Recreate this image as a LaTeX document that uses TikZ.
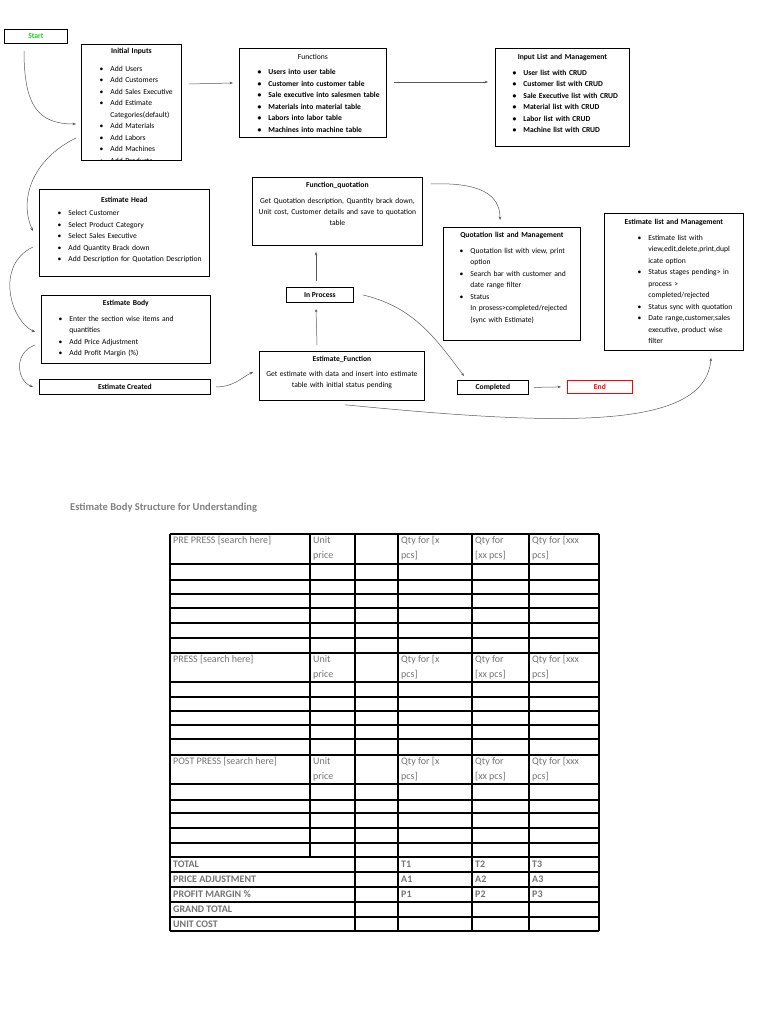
\documentclass[tikz,border=0pt]{standalone}
\usepackage{fontspec}
\setmainfont{Carlito}
\usepackage{enumitem}
\usetikzlibrary{calc,arrows.meta}
\setlist[itemize]{label=\textbullet,nosep,topsep=5pt,labelsep=7pt}
\newcommand{\cardfont}{\fontsize{7.6}{11.5}\selectfont}
\newcommand{\tabfont}{\fontsize{10}{15}\selectfont}
\definecolor{startgreen}{RGB}{20,210,20}

\begin{document}
\begin{tikzpicture}
[x=1pt,y=-1pt,
card/.style={draw,line width=0.8pt,anchor=north west,inner sep=0pt},
cardtxt/.style={anchor=north,inner sep=0pt,font=\cardfont,align=left},
tag/.style={card,font=\cardfont\bfseries},
arr/.style={draw=black!65,line width=0.5pt,-{Stealth[length=3.5pt,width=2.6pt]}},
tabline/.style={line width=1.3pt},
cell/.style={anchor=north west,inner sep=0pt,font=\tabfont,text=black!55,align=left}]
\useasboundingbox (0,0) rectangle (768,1024);

% flow chart boxes
\node[tag,minimum width=63,minimum height=14,text=startgreen] (start) at (4,29) {Start};
\node[card,minimum width=100,minimum height=116] (init) at (81,44) {};
\begin{scope}
\clip (init.north west) rectangle (init.south east);
\node[cardtxt,text width=98] (init-t) at ($(init.north)+(0,4)$) {{\centering\textbf{Initial Inputs}\par}
\begin{itemize}[leftmargin=28pt,topsep=6pt]
\item Add Users
\item Add Customers
\item Add Sales Executive
\item Add Estimate\\Categories(default)
\item Add Materials
\item Add Labors
\item Add Machines
\item Add Products
\end{itemize}};
\end{scope}
\node[card,minimum width=147,minimum height=89] (func) at (239,48) {};
\node[cardtxt,text width=145,font=\cardfont\bfseries] (func-t) at ($(func.north)+(0,6)$) {{\centering\mdseries Functions\par}
\begin{itemize}[leftmargin=28pt,topsep=4pt]
\item Users into user table
\item Customer into customer table
\item Sale executive into salesmen table
\item Materials into material table
\item Labors into labor table
\item Machines into machine table
\end{itemize}};
\node[card,minimum width=134,minimum height=98] (inlist) at (495,48) {};
\node[cardtxt,text width=132,font=\cardfont\bfseries] (inlist-t) at ($(inlist.north)+(0,6)$) {{\centering Input List and Management\par}
\begin{itemize}[leftmargin=27pt,topsep=4pt]
\item User list with CRUD
\item Customer list with CRUD
\item Sale Executive list with CRUD
\item Material list with CRUD
\item Labor list with CRUD
\item Machine list with CRUD
\end{itemize}};
\node[card,minimum width=170,minimum height=87] (head) at (39,189) {};
\node[cardtxt,text width=168] (head-t) at ($(head.north)+(0,8)$) {{\centering\textbf{Estimate Head}\par}
\begin{itemize}[leftmargin=28pt,topsep=1.5pt]
\item Select Customer
\item Select Product Category
\item Select Sales Executive
\item Add Quantity Brack down
\item Add Description for Quotation Description
\end{itemize}};
\node[card,minimum width=170,minimum height=68] (fq) at (252,177) {};
\node[cardtxt,text width=168,align=center,font=\fontsize{7.6}{10.8}\selectfont] (fq-t) at ($(fq.north)+(0,5)$) {\textbf{Function\_quotation}\\[5.5pt]
Get Quotation description, Quantity brack down,\\
Unit cost, Customer details and save to quotation\\
table};
\node[card,minimum width=137,minimum height=113] (quot) at (443,227) {};
\node[cardtxt,text width=135] (quot-t) at ($(quot.north)+(0,5)$) {{\centering\textbf{Quotation list and Management}\par}
\begin{itemize}[leftmargin=26pt,topsep=4pt]
\item Quotation list with view, print\\option
\item Search bar with customer and\\date range filter
\item Status\\In prosess>completed/rejected\\(sync with Estimate)
\end{itemize}};
\node[card,minimum width=139,minimum height=137] (elist) at (604,213) {};
\node[cardtxt,text width=137] (elist-t) at ($(elist.north)+(0,6)$) {{\centering\textbf{Estimate list and Management}\par}
\begin{itemize}[leftmargin=43pt,topsep=4pt]
\item Estimate list with\\view,edit,delete,print,dupl\\icate option
\item Status stages pending> in\\process >\\completed/rejected
\item Status sync with quotation
\item Date range,customer,sales\\executive, product wise\\filter
\end{itemize}};
\node[card,minimum width=169,minimum height=68] (body) at (41,295) {};
\node[cardtxt,text width=167] (body-t) at ($(body.north)+(0,5)$) {{\centering\textbf{Estimate Body}\par}
\begin{itemize}[leftmargin=27pt,topsep=4pt]
\item Enter the section wise items and\\quantities
\item Add Price Adjustment
\item Add Profit Margin (\%)
\end{itemize}};
\node[tag,minimum width=67,minimum height=15] (inproc) at (286,287) {In Process};
\node[card,minimum width=165,minimum height=49] (efunc) at (259,351) {};
\node[cardtxt,text width=163,align=center,font=\fontsize{7.6}{10.8}\selectfont] (efunc-t) at ($(efunc.north)+(0,5)$) {\textbf{Estimate\_Function}\\[4.5pt]
Get estimate with data and insert into estimate\\
table with initial status pending};
\node[tag,minimum width=171,minimum height=15] (created) at (39,379) {Estimate Created};
\node[tag,minimum width=71,minimum height=14] (done) at (457,380) {Completed};
\node[tag,minimum width=65,minimum height=13,draw=red,text=red] (end) at (567,380) {End};

% connectors
\path[arr] ($(start.south west)+(20,7)$) .. controls +(0,55) and +(-38,0) .. ($(init.north west)+(-5,80)$);
\path[arr] ($(init.north east)+(7,40)$) -- ($(func.north west)+(-6,35)$);
\path[arr] ($(func.north east)+(7,34)$) -- ($(inlist.north west)+(-7,34)$);
\path[arr] ($(init.north west)+(-5,94)$) .. controls +(-45,22) and +(-14,-30) .. ($(head.north west)+(-6,42)$);
\path[arr] ($(head.north west)+(-6,58)$) .. controls +(-38,18) and +(-25,-12) .. ($(body.north west)+(-6,37)$);
\path[arr] ($(body.north west)+(-6,50)$) .. controls +(-22,8) and +(-16,-6) .. ($(created.west)+(-6,0)$);
\path[arr] ($(created.east)+(5,0)$) .. controls +(18,0) and +(-12,6) .. ($(efunc.north west)+(-6,21)$);
\path[arr] ($(efunc.north west)+(58,-6)$) -- ($(inproc.south west)+(30,6)$);
\path[arr] ($(inproc.north west)+(30,-6)$) -- ($(fq.south west)+(64,6)$);
\path[arr] ($(inproc.east)+(9,0)$) .. controls +(50,12) and +(-30,-40) .. ($(done.north west)+(7,-4)$);
\path[arr] ($(fq.north east)+(8,7)$) .. controls +(50,-2) and +(0,-25) .. ($(quot.north west)+(57,-7)$);
\path[arr] ($(done.east)+(5,0)$) -- ($(end.west)+(-6,0)$);
\path[arr] ($(efunc.south west)+(86,4)$) .. controls +(215,21) and +(-6,73) .. ($(elist.south west)+(107,7)$);

% estimate body table
\node[anchor=west,inner sep=0pt,font=\fontsize{10.5}{12}\selectfont\bfseries,text=black!50] (tabtitle) at (70,508) {Estimate Body Structure for Understanding};
\foreach \y in {534,564,580,594,608,623,638,653,682,697,711,725,739,755,784,800,813,828,843,857,872,887,902,917,931}
  \draw[tabline] (170,\y) -- (599,\y);
\foreach \x in {170,355,398,472,529,599}
  \draw[tabline] (\x,534) -- (\x,931);
\draw[tabline] (310,534) -- (310,857);
\foreach \r/\sec in {534/PRE PRESS,653/PRESS,755/POST PRESS} {
  \node[cell] (sec\r) at (173,\r+2) {\sec\ [search here]};
  \node[cell] (unit\r) at (313,\r+2) {Unit\\price};
  \node[cell] (qa\r) at (401,\r+2) {Qty for [x\\pcs]};
  \node[cell] (qb\r) at (475,\r+2) {Qty for\\{[xx pcs]}};
  \node[cell] (qc\r) at (532,\r+2) {Qty for [xxx\\pcs]};
}
\foreach \y/\lab in {857/TOTAL,872/PRICE ADJUSTMENT,887/PROFIT MARGIN \%,902/GRAND TOTAL,917/UNIT COST}
  \node[cell,anchor=west,font=\fontsize{10}{11}\selectfont\bfseries] (sum\y) at (173,\y+7.5) {\lab};
\foreach \y/\k in {857/T,872/A,887/P}
  \foreach \x [count=\i] in {401,475,532}
    \node[cell,anchor=west,font=\fontsize{10}{11}\selectfont\bfseries] (v\y-\i) at (\x,\y+7.5) {\k\i};
\end{tikzpicture}
\end{document}
